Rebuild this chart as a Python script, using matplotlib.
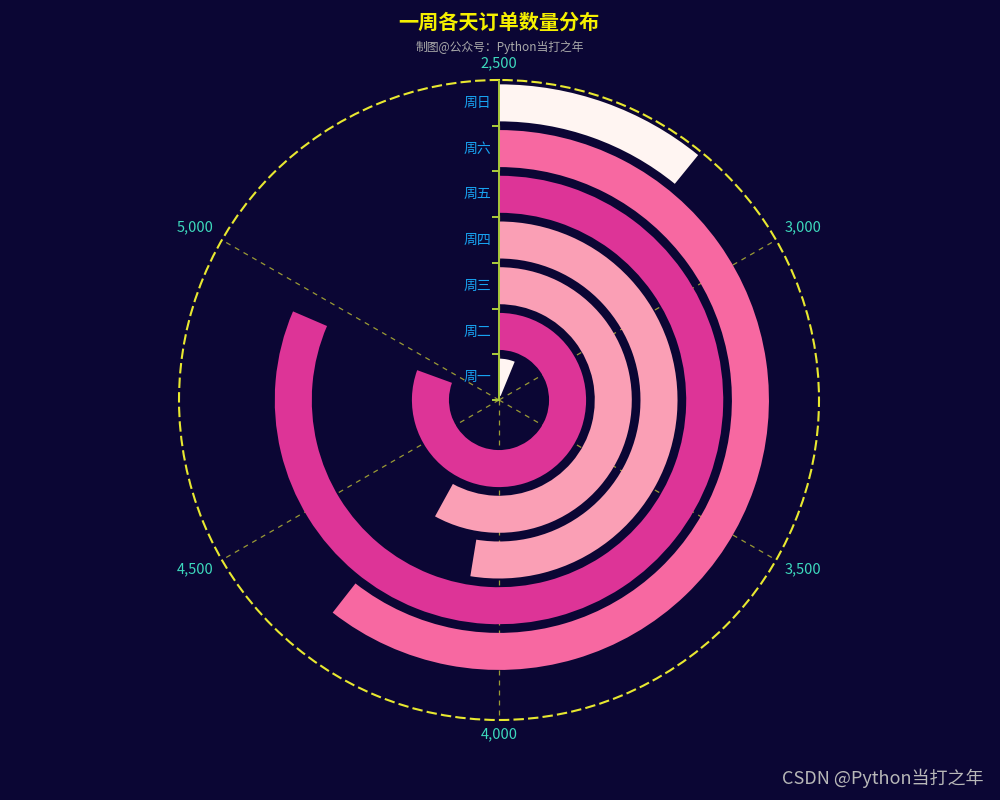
import numpy as np
import matplotlib
matplotlib.use("Agg")
import matplotlib.pyplot as plt

plt.rcParams['font.family'] = ['Noto Sans CJK SC', 'DejaVu Sans']

# data
days = ["周一", "周二", "周三", "周四", "周五", "周六", "周日"]
orders = [2686, 4917, 4240, 4077, 4944, 4317, 2826]
bar_colors = ["#fff5f2", "#dd3497", "#fa9fb5", "#fa9fb5", "#dd3497", "#f768a1", "#fff5f2"]
angle_ticks = [2500, 3000, 3500, 4000, 4500, 5000]
angle_min, angle_max = 2500, 5500

bg = "#0b0634"


def to_theta(v):
    return np.deg2rad((np.asarray(v, dtype=float) - angle_min) / (angle_max - angle_min) * 360)


fig = plt.figure(figsize=(10, 8), dpi=100, facecolor=bg)
ax = fig.add_axes([0.179, 0.1, 0.64, 0.8], projection="polar")
ax.set_facecolor(bg)
ax.set_theta_zero_location("N")
ax.set_theta_direction(-1)

r = np.arange(len(days))
ax.barh(r, to_theta(orders), height=0.81, left=0, color=bar_colors, zorder=3)
rmax = len(days) - 0.5
ax.set_rlim(-0.5, rmax)
ax.set_thetalim(0, 2 * np.pi)

# angle axis
ax.set_xticks(to_theta(angle_ticks))
ax.set_xticklabels([])
ax.tick_params(axis="x", direction="in", length=5, width=1.2, color="#e8e830")
ax.xaxis.grid(True, color="#9a9a35", linestyle=(0, (4, 4)), linewidth=0.9)
ax.spines["polar"].set_color("#e8e830")
ax.spines["polar"].set_linestyle((0, (4, 3)))
ax.spines["polar"].set_linewidth(1.5)

# label offsets (points) and alignment around the circle, echarts-like
label_pos = {
    2500: ((0, 12), "center"),
    3000: ((6, 9), "left"),
    3500: ((6, -7), "left"),
    4000: ((0, -10), "center"),
    4500: ((-6, -7), "right"),
    5000: ((-6, 9), "right"),
}
for v in angle_ticks:
    off, ha = label_pos[v]
    ax.annotate(f"{v:,}", xy=(to_theta(v), rmax), xytext=off, textcoords="offset points",
                ha=ha, va="center", color="#3dd9bd", fontsize=10.5, annotation_clip=False)

# radial axis
ax.set_yticks([])
ax.yaxis.grid(False)
ax.plot([0, 0], [-0.5, rmax], color="#a8c83a", lw=1.4, zorder=4)
edges = np.arange(len(days) + 1) - 0.5
ax.plot(np.zeros(len(edges)), edges, linestyle="none",
        marker=[(-1, 0), (0, 0)], markersize=10, markeredgewidth=1.3,
        markeredgecolor="#a8c83a", zorder=2)
for i, d in enumerate(days):
    ax.annotate(d, xy=(0, i), xytext=(-5.5, 0), textcoords="offset points",
                ha="right", va="center", color="#18a2f0", fontsize=10, zorder=5)

fig.text(0.499, 0.972, "一周各天订单数量分布", ha="center", va="center",
         color="#f5f000", fontsize=14.5, fontweight="bold")
fig.text(0.5, 0.941, "制图@公众号：Python当打之年", ha="center", va="center",
         color="#aaaaaa", fontsize=8.5)
fig.text(0.983, 0.027, "CSDN @Python当打之年", ha="right", va="center",
         color="#b8b8b8", fontsize=13)

fig.savefig("out.png", dpi=100, facecolor=bg)
